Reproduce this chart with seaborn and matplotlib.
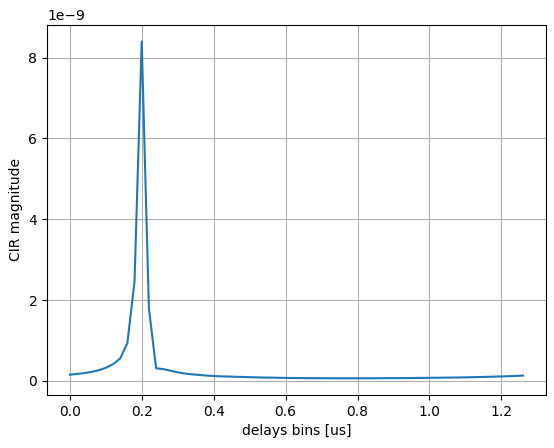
import numpy as np
import matplotlib
matplotlib.use("Agg")
import matplotlib.pyplot as plt
import seaborn as sns

delays = np.arange(64) * 0.02
cir = np.array([
    0.15, 0.17, 0.19, 0.22, 0.26, 0.32, 0.41, 0.55, 0.93,
    2.45, 8.40, 1.80, 0.31, 0.29, 0.25, 0.21, 0.18, 0.16, 0.145,
    0.13, 0.12, 0.11, 0.105, 0.10, 0.095, 0.09, 0.085, 0.08, 0.078,
    0.075, 0.072, 0.07, 0.068, 0.066, 0.065, 0.064, 0.063, 0.062, 0.062,
    0.062, 0.062, 0.062, 0.063, 0.064, 0.065, 0.066, 0.067, 0.068, 0.07,
    0.072, 0.074, 0.076, 0.078, 0.08, 0.083, 0.086, 0.09, 0.094, 0.098,
    0.103, 0.108, 0.114, 0.12, 0.13,
]) * 1e-9

fig, ax = plt.subplots(figsize=(5.54, 4.48), dpi=100)
sns.lineplot(x=delays, y=cir, ax=ax, color="#1f77b4")
ax.grid(True)
ax.set_xlabel("delays bins [us]")
ax.set_ylabel("CIR magnitude")
fig.subplots_adjust(left=0.085, right=0.985, top=0.945, bottom=0.118)
fig.savefig("out.png")
